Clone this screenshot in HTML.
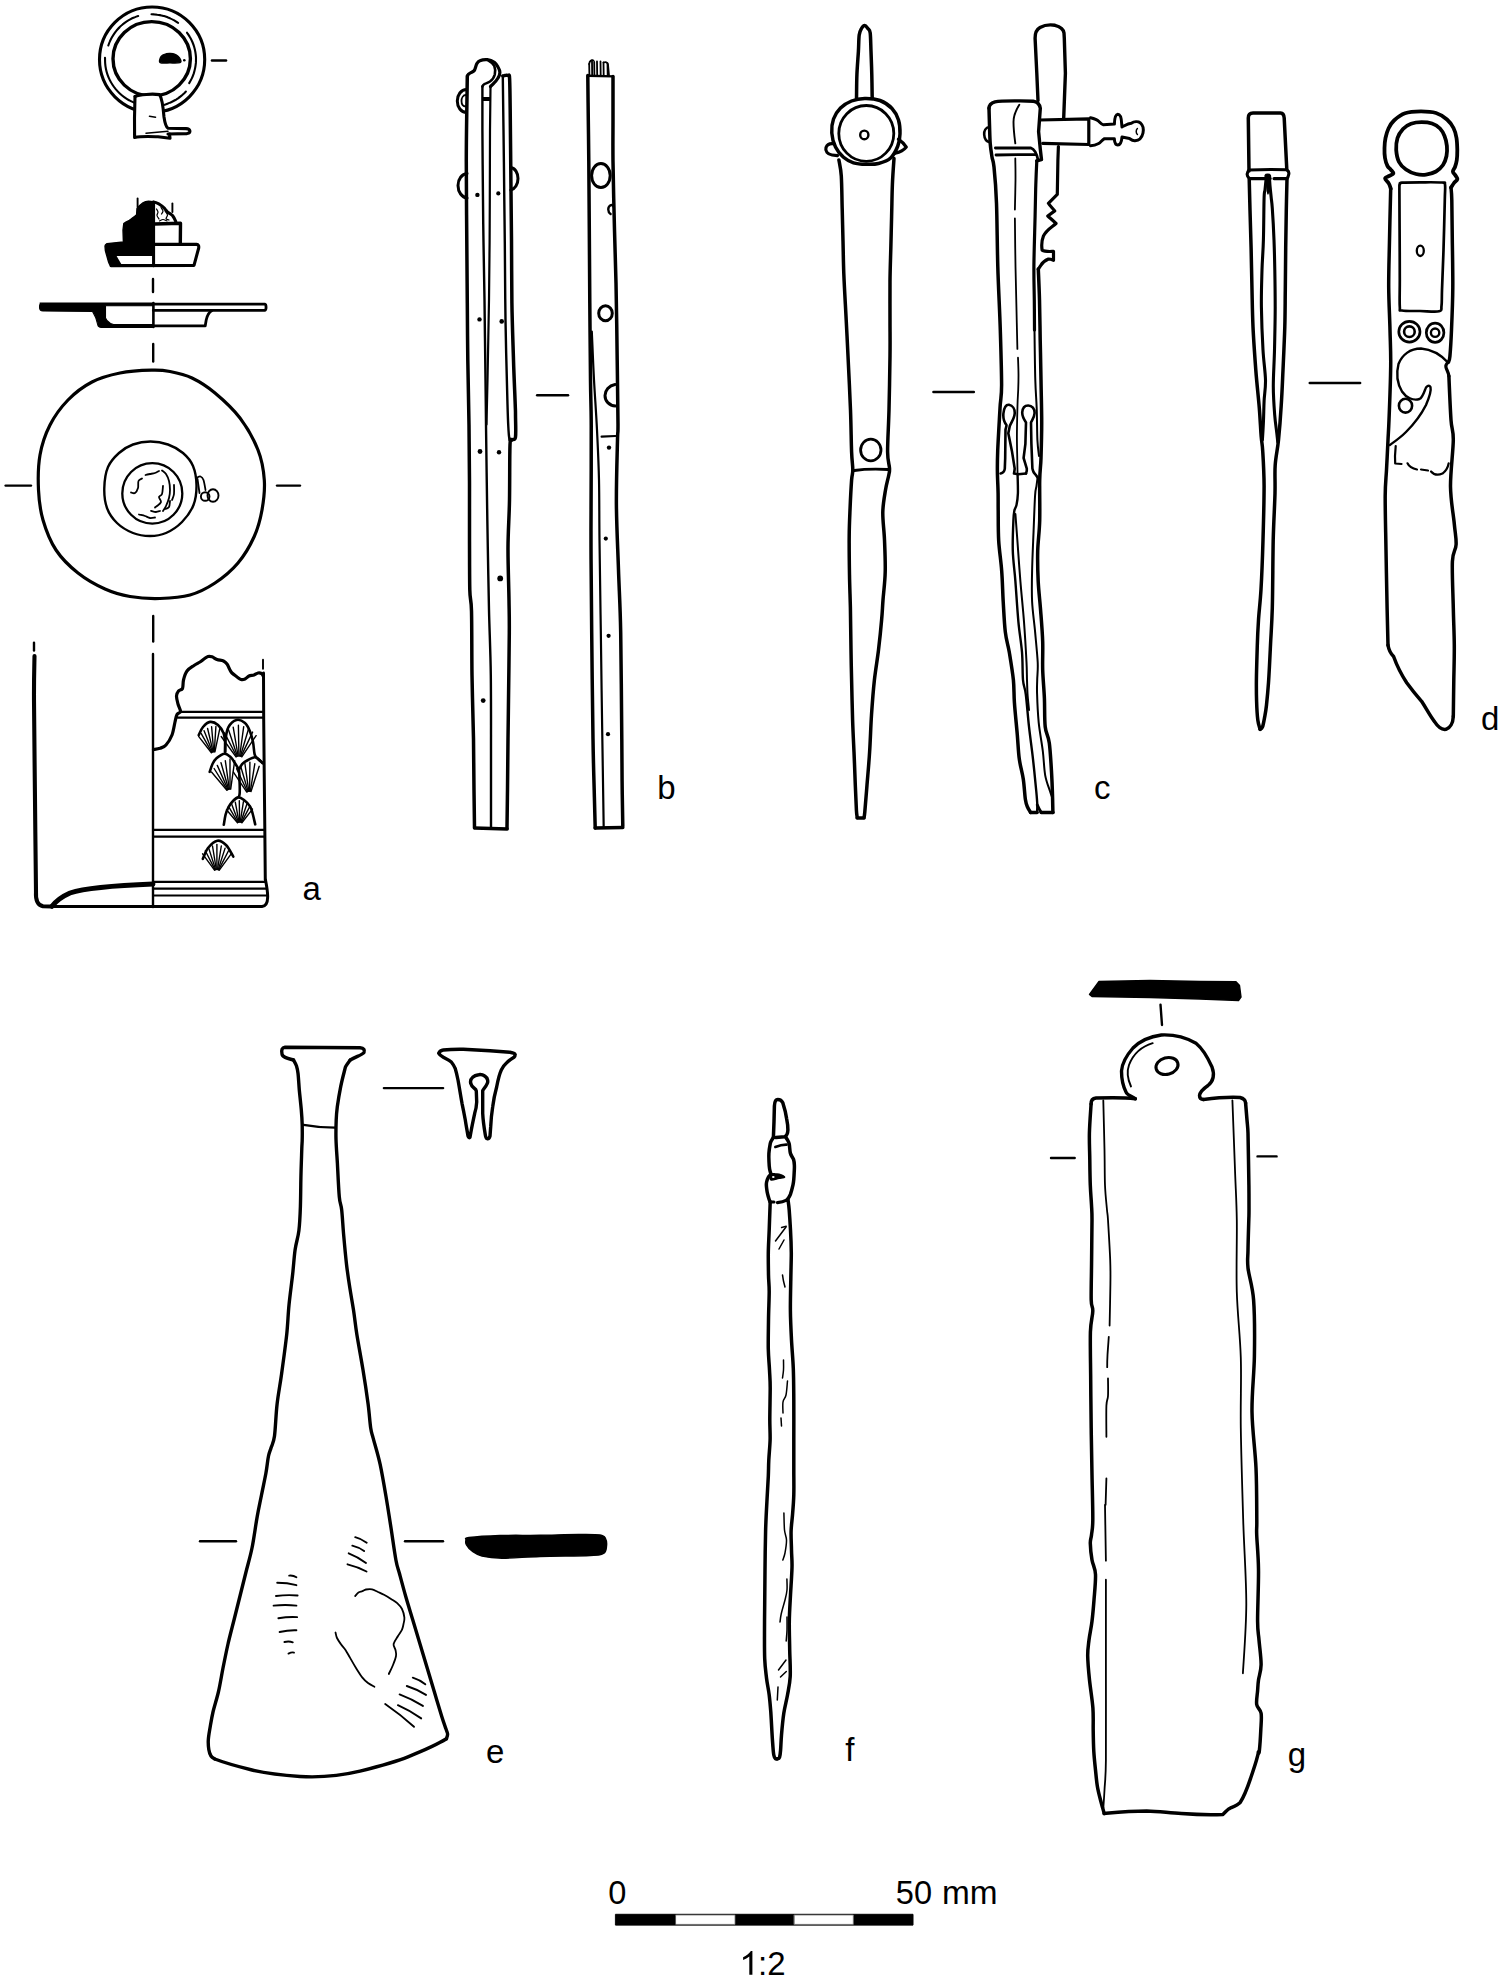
<!DOCTYPE html>
<html><head><meta charset="utf-8"><title>Figure</title>
<style>
html,body{margin:0;padding:0;background:#fff;}
body{width:1500px;height:1976px;overflow:hidden;}
svg{display:block;}
text{font-family:"Liberation Sans",sans-serif;fill:#000;stroke:none;}
</style></head><body>
<svg width="1500" height="1976" viewBox="0 0 1500 1976">
<g stroke="#000" stroke-linecap="round" stroke-linejoin="round" fill="none">
<circle cx="152.1" cy="59.6" r="52.6" stroke-width="3.1" fill="none"/>
<ellipse cx="151.7" cy="58.8" rx="38.7" ry="37.2" stroke-width="3.4" fill="none"/>
<path d="M108.3 45.5 C108.6 44.8 109.3 42.7 109.9 41.4 C110.4 40.1 111.1 38.8 111.8 37.5 C112.5 36.2 113.3 35 114.1 33.8 C114.9 32.6 115.8 31.4 116.7 30.3 C117.7 29.2 118.6 28.1 119.7 27.1 C120.7 26.1 121.8 25.1 122.9 24.2 C124.1 23.3 125.2 22.4 126.4 21.6 C127.7 20.8 128.9 20.1 130.2 19.4 C131.5 18.7 132.8 18.1 134.1 17.6 C135.5 17 137.5 16.3 138.2 16.1" stroke-width="2.1" fill="none"/>
<path d="M151.5 14.3 C152 14.3 153.4 14.3 154.3 14.4 C155.3 14.4 156.2 14.5 157.2 14.7 C158.1 14.8 159 14.9 160 15.1 C160.9 15.3 161.8 15.5 162.7 15.7 C163.7 16 164.6 16.2 165.5 16.5 C166.4 16.8 167.3 17.1 168.1 17.5 C169 17.8 169.9 18.2 170.7 18.6 C171.6 19 172.4 19.4 173.3 19.9 C174.1 20.3 174.9 20.8 175.7 21.3 C176.5 21.8 177.7 22.7 178.1 22.9" stroke-width="2.1" fill="none"/>
<path d="M187 32.7 C187.5 33.5 189.1 35.6 190 37.2 C190.9 38.7 191.7 40.3 192.4 42 C193.1 43.6 193.7 45.3 194.2 47 C194.7 48.7 195.1 50.5 195.4 52.2 C195.7 54 195.9 55.8 196 57.6 C196 59.3 196 61.1 195.9 62.9 C195.7 64.7 195.5 66.5 195.1 68.2 C194.8 70 194.3 71.7 193.8 73.4 C193.2 75.1 192.6 76.8 191.8 78.4 C191 80 189.7 82.3 189.2 83.1" stroke-width="2.1" fill="none"/>
<path d="M185.9 91.6 C185.6 91.9 184.6 92.9 184 93.5 C183.3 94.1 182.6 94.7 182 95.3 C181.3 95.9 180.6 96.4 179.9 97 C179.1 97.5 178.4 98.1 177.6 98.6 C176.9 99.1 176.1 99.5 175.4 100 C174.6 100.5 173.8 100.9 173 101.3 C172.2 101.7 171.4 102.1 170.5 102.5 C169.7 102.8 168.9 103.2 168 103.5 C167.2 103.8 166.3 104.1 165.5 104.4 C164.6 104.6 163.3 105 162.9 105.1" stroke-width="2.1" fill="none"/>
<path d="M134.1 102.6 C133.2 102.2 130.6 101.1 129 100.2 C127.3 99.3 125.7 98.2 124.2 97.1 C122.6 96 121.2 94.8 119.8 93.5 C118.4 92.2 117.1 90.8 115.9 89.4 C114.7 87.9 113.5 86.4 112.5 84.8 C111.5 83.2 110.5 81.6 109.7 79.9 C108.9 78.2 108.1 76.4 107.5 74.6 C106.9 72.9 106.4 71 106 69.2 C105.6 67.3 105.3 65.4 105.2 63.6 C105 61.7 105.1 58.8 105 57.9" stroke-width="2.1" fill="none"/>
<path d="M160.2 62.6 C158.6 61.8 159.9 59.3 160.3 58 C160.7 56.7 161.8 55.7 162.8 55 C163.8 54.3 165.3 54 166.5 53.7 C167.7 53.4 168.9 53.3 170.2 53.4 C171.5 53.5 173.2 53.6 174.5 54.1 C175.8 54.6 177.3 55.6 178.3 56.5 C179.3 57.4 180.1 58.5 180.4 59.5 C180.7 60.5 181.7 62 180 62.6 C178.3 63.2 173.3 62.9 170 62.9 C166.7 62.9 161.8 63.4 160.2 62.6Z" stroke-width="1.4" fill="#000"/>
<circle cx="184.3" cy="60.3" r="1.3" fill="#000" stroke="none"/>
<path d="M212 60.5 L226 60.5" stroke-width="2.6" fill="none"/>
<path d="M135 96.5 C140 94.5 152 93.6 159.5 94.6 C162 98 163 105 164 117 C165 124 166 127 168 128.3 L168 138 L134.6 137.5 Z" fill="#fff" stroke="none"/>
<path d="M135 96.5 C140 94.5 152 93.6 159.5 94.6 C162 98 163 105 164 117 C165 124 166 127 168 128.3 L186 128.6 C190.5 129 191.5 132.5 187 133.6 L168 134" stroke-width="3.1" fill="none"/>
<path d="M135 96.5 L134.5 118 L134.6 137.5 C142 136 150 136.5 158 136.8 L170 138.3 L169.5 134" stroke-width="3.1" fill="none"/>
<path d="M146 133.3 L168 131.2" stroke-width="1.5" fill="none"/>
<path d="M149.5 116.3 L155.5 117.2" stroke-width="1.6" fill="none"/>
<path d="M137.6 198.5 L137.6 207" stroke-width="1.9" fill="none"/>
<path d="M172.4 203.5 L172.4 212" stroke-width="1.9" fill="none"/>
<path d="M153.4 202 C150 201 146 200.8 143 202.8 C140 205 138 207 137 208.4 L136.6 214.8 C134 217 131 219 129.4 220.4 C126 222 124.5 223 123.8 223.6 L123 230 L123.4 242 L107 243.6 C105.5 244.5 105 245.5 105 246 L105.4 250.8 L108.6 262 C109.5 264.5 110 265.5 111 265.6 L154.4 265.6 L154.4 202 Z" stroke-width="1.4" fill="#000"/>
<path d="M116.6 256 L152.2 256 L152.2 264.2 L121.4 264.2 Z" fill="#fff" stroke="none"/>
<path d="M153.4 202 C157 202.5 161 205 164.6 208.4 C166 210 167 211.6 168 212.5 C170 213.5 171 214 172.5 215.5 C174 217.5 175 219.5 175.8 221.5" stroke-width="3.1" fill="none"/>
<path d="M154.4 224 L180.5 223.2 L180.3 244.4" stroke-width="3.4" fill="none"/>
<path d="M154.4 244.4 L196.5 244.4 C198.5 244.6 199 246 198.7 248 L194 265.4 L111 265.6" stroke-width="3.1" fill="none"/>
<path d="M153.6 202 L153.6 266" stroke-width="2.7" fill="none"/>
<path d="M156.5 209 C156.8 209.5 157.9 210.9 158 212 C158.1 213.1 156.8 214.3 157 215.5 C157.2 216.7 158.7 218.4 159 219" stroke-width="1.2" fill="none"/>
<path d="M161 207.5 C161.3 208.1 162.9 209.9 163 211 C163.1 212.1 161.8 213.5 161.5 214" stroke-width="1.2" fill="none"/>
<path d="M165 211 C165.4 211.7 167.3 213.8 167.5 215 C167.7 216.2 165.8 217.7 166 218.5 C166.2 219.3 168.5 219.8 169 220" stroke-width="1.2" fill="none"/>
<path d="M159.5 221 C160.1 220.8 161.8 219.5 163 219.5 C164.2 219.5 166.3 220.8 167 221" stroke-width="1.2" fill="none"/>
<path d="M153 279 L153 292" stroke-width="2.4" fill="none"/>
<path d="M40 303 L153.4 303 L153.4 305.8 L105.5 305.8 L105.5 318 C106 320 108 322 110.5 323.5 L113.5 324.6 L153.4 324.6 L153.4 327.4 L101.5 327.4 C99 327.3 98 326.5 97.8 325 C97 321 95.5 316 92.5 311.5 L43 311 C40 311 39.5 309 39.5 307 C39.5 304.5 40 303 42 303 Z" stroke-width="1.1" fill="#000"/>
<path d="M153.4 304.2 L264.8 304.2 C266.5 304.5 266.5 310 264.8 310.3 L212 310.4 C209 312 207 316 206.2 320 L205.2 325.9 L153.4 325.9" stroke-width="2.8" fill="none"/>
<path d="M153.4 303 L153.4 327" stroke-width="2.6" fill="none"/>
<path d="M153.4 310.4 L212 310.4" stroke-width="2.7" fill="none"/>
<path d="M153.2 344 L153.2 361.5" stroke-width="2.4" fill="none"/>
<path d="M151.5 370.2 C159.8 369.9 163.2 370.2 170 371.5 C176.8 372.8 184.5 374.4 192 378 C199.5 381.6 207 386.3 215 393 C223 399.7 232.8 408.5 240 418 C247.2 427.5 253.9 439.7 258 450 C262.1 460.3 263.6 470 264.3 480 C265 490 263.7 500.5 262 510 C260.3 519.5 258 528.2 254 537 C250 545.8 244.5 555.3 238 563 C231.5 570.7 223 577.7 215 583 C207 588.3 199.2 592.4 190 595 C180.8 597.6 170 598.2 160 598.5 C150 598.8 139.2 598.1 130 596.5 C120.8 594.9 113.7 592.9 105 589 C96.3 585.1 86.2 579.5 78 573 C69.8 566.5 61.8 558.8 56 550 C50.2 541.2 45.9 530 43 520 C40.1 510 39 500.8 38.5 490 C38 479.2 38.1 465.8 40 455 C41.9 444.2 45.3 434.2 50 425 C54.7 415.8 61 407.2 68 400 C75 392.8 83.3 386.5 92 382 C100.7 377.5 110.1 375 120 373 C129.9 371 143.2 370.4 151.5 370.2Z" stroke-width="3.2" fill="none"/>
<path d="M150.5 441.5 C156.3 441.5 162.6 442.6 168 444.5 C173.4 446.4 178.8 449.4 183 453 C187.2 456.6 190.8 460.7 193 466 C195.2 471.3 196.4 478.5 196.5 485 C196.6 491.5 195.9 498.8 193.5 505 C191.1 511.2 186.6 517.3 182 522 C177.4 526.7 171.3 530.7 166 533 C160.7 535.3 155.5 536 150 536 C144.5 536 138.5 535.2 133 533 C127.5 530.8 121.3 527.2 117 523 C112.7 518.8 109.1 513.8 107 508 C104.9 502.2 104.1 494.8 104.3 488 C104.5 481.2 105.5 472.8 108 467 C110.5 461.2 114.8 456.8 119 453 C123.2 449.2 127.8 446.4 133 444.5 C138.2 442.6 144.7 441.5 150.5 441.5Z" stroke-width="2.4" fill="none"/>
<ellipse cx="152.3" cy="493.4" rx="30" ry="30.2" stroke-width="2.3" fill="none"/>
<path d="M131 492.5 C131.7 492.6 133.8 493.8 135 493 C136.2 492.2 137.4 490 138 488 C138.6 486 137.8 482.6 138.5 481 C139.2 479.4 141.4 478.9 142 478.5" stroke-width="1.8" fill="none"/>
<path d="M145.5 475 C146.2 474.8 148.4 474.3 150 474 C151.6 473.7 153.5 473.5 155 473 C156.5 472.5 158.3 471.3 159 471" stroke-width="1.8" fill="none"/>
<path d="M162 470.5 C162.7 471.1 164.8 472.2 166 474 C167.2 475.8 168.3 478.3 169 481 C169.7 483.7 170 487.2 170 490 C170 492.8 169.7 495.3 169 498 C168.3 500.7 167 503.8 166 506 C165 508.2 163.5 510.2 163 511" stroke-width="1.8" fill="none"/>
<path d="M163 486 C162.8 487.3 162.7 492.2 162 494 C161.3 495.8 159.2 495.7 159 497 C158.8 498.3 161.3 500.5 161 502 C160.7 503.5 158 505.1 157 506 C156 506.9 155.3 507.2 155 507.5" stroke-width="1.8" fill="none"/>
<path d="M174 485 C174 486.5 174.3 491.5 174 494 C173.7 496.5 172.3 499 172 500" stroke-width="1.8" fill="none"/>
<path d="M139 514.5 C140 514.8 143.2 515.4 145 516 C146.8 516.6 148.3 517.8 150 518 C151.7 518.2 154.2 517.6 155 517.5" stroke-width="1.8" fill="none"/>
<path d="M151 510.8 C151.8 511 154.5 512 156 512 C157.5 512 159.3 511.2 160 511" stroke-width="1.8" fill="none"/>
<path d="M165 509 C165.7 508.7 168.2 508.3 169 507 C169.8 505.7 169.8 502 170 501" stroke-width="1.8" fill="none"/>
<path d="M197 477.5 C197.6 477.3 199.4 476.1 200.5 476.5 C201.6 476.9 202.7 477.8 203.5 480 C204.3 482.2 205.2 488.3 205.5 490" stroke-width="1.8" fill="none"/>
<path d="M197.5 479 L199.5 493" stroke-width="1.8" fill="none"/>
<circle cx="205.2" cy="496.5" r="4.3" stroke-width="1.9" fill="none"/>
<ellipse cx="213" cy="495.5" rx="5.5" ry="6.3" stroke-width="1.9" fill="none"/>
<path d="M5.6 485.6 L31 485.6" stroke-width="2.4" fill="none"/>
<path d="M277 485.6 L300 485.6" stroke-width="2.4" fill="none"/>
<path d="M153.2 616 L153.2 641.5" stroke-width="2.4" fill="none"/>
<path d="M34 642.7 L34 650.6" stroke-width="2.4" fill="none"/>
<path d="M263 659.7 L263 668.7" stroke-width="1.9" fill="none"/>
<path d="M34.5 656 C34.4 663.3 33.9 676 34 700 C34.1 724 34.7 768 35 800 C35.3 832 35.8 876.7 36 892" stroke-width="4.1" fill="none"/>
<path d="M36 892 C35.5 900 37 905 43 906.3 L52 906.5" stroke-width="4.1" fill="none"/>
<path d="M52 906.3 C56 901 61 897 70 893 C85 888 110 885.6 153 884" stroke-width="4.9" fill="none"/>
<path d="M43 906.6 L262 906.6 C266 906 267.5 903 267.6 898 C268 893 266.5 885 265.5 880" stroke-width="3" fill="none"/>
<path d="M153 654 L153 907" stroke-width="2.4" fill="none"/>
<path d="M263.5 673 C263.5 680.8 263.5 698.8 263.7 720 C263.9 741.2 264.2 773.3 264.5 800 C264.8 826.7 265.2 866.7 265.3 880" stroke-width="3" fill="none"/>
<path d="M153.5 749.5 C154.6 749.3 157.9 749 160 748.3 C162.1 747.5 164 747.2 166 745 C168 742.8 170.5 738.8 172 735 C173.5 731.2 174.2 725.4 175 722 C175.8 718.6 176.1 716.2 177 714.5 C177.9 712.8 180.3 713.2 180.5 711.5 C180.7 709.8 178.7 706.6 178 704 C177.3 701.4 176.4 698.2 176.5 696 C176.6 693.8 177.5 692.2 178.5 691 C179.5 689.8 181.7 690.3 182.5 688.5 C183.3 686.7 182.8 682.9 183.5 680 C184.2 677.1 185.2 673.4 187 671 C188.8 668.6 191.8 667 194 665.5 C196.2 664 198.3 663.1 200 662 C201.7 660.9 202.7 659.9 204 659 C205.3 658.1 206.7 656.9 208 656.5 C209.3 656.1 210.5 656.3 212 656.8 C213.5 657.3 215.1 658.8 217 659.5 C218.9 660.2 221.8 660.2 223.5 661 C225.2 661.8 226 662.7 227 664 C228 665.3 228.7 667.5 229.5 669 C230.3 670.5 230.8 671.8 232 673 C233.2 674.2 235 675.4 236.5 676.5 C238 677.6 239.6 679.1 241 679.5 C242.4 679.9 243.7 679.6 245 679 C246.3 678.4 247.5 676.7 249 676 C250.5 675.3 252.5 675.5 254 675 C255.5 674.5 256.8 673.2 258 673 C259.2 672.8 260.6 673 261.5 673.5 C262.4 674 262.9 675.6 263.2 676" stroke-width="3.2" fill="none"/>
<path d="M180 711.8 L263.5 711.8" stroke-width="2.2" fill="none"/>
<path d="M177.5 717.6 L263.5 717.6" stroke-width="2.2" fill="none"/>
<path d="M154 829.8 L265 829.8" stroke-width="2.2" fill="none"/>
<path d="M154 836.6 L265 836.6" stroke-width="2.2" fill="none"/>
<path d="M154 881.8 L265.5 881.8" stroke-width="2.2" fill="none"/>
<path d="M154 888.7 L267 888.7" stroke-width="2.2" fill="none"/>
<path d="M154 895.5 L267.5 895.5" stroke-width="2.2" fill="none"/>
<path d="M198.7 735.1 C199.4 733.8 201.1 729.2 203 727 C204.9 724.8 207.6 722.2 210.1 721.9 C212.6 721.6 215.8 723.1 218 725 C220.2 726.9 222.3 730.2 223.5 733 C224.7 735.8 224.8 738.9 225.1 742 C225.4 745.1 225.1 750.2 225.1 751.9" stroke-width="2.6" fill="none"/>
<path d="M225.1 751.9 C225.2 749.9 225 744.1 225.5 740 C226 735.9 226.5 730.6 228.3 727.3 C230.1 724 233.7 720.7 236.5 720 C239.3 719.3 242.7 721 245 723 C247.3 725 248.9 728.7 250.2 731.9 C251.5 735.1 252.2 738.2 253 742 C253.8 745.8 253.9 751.8 254.7 754.6 C255.5 757.4 256.7 757.6 258 759 C259.3 760.4 261.8 762.3 262.5 763" stroke-width="2.6" fill="none"/>
<path d="M209.7 771.9 C210.2 770.6 211.4 766.3 212.5 764 C213.6 761.7 214.5 760 216.5 758.3 C218.5 756.6 222.3 753.8 224.7 753.7 C227.1 753.6 229.3 756 231 757.5 C232.7 759 233.4 760.7 234.7 762.8 C236 764.9 238 767.2 238.8 770.1 C239.6 773 239.3 776.2 239.5 780 C239.7 783.8 239.8 790.1 239.7 792.9 C239.6 795.7 239 796.3 238.8 797" stroke-width="2.6" fill="none"/>
<path d="M238.8 770.1 C239.2 769.2 240.5 766.4 241.5 765 C242.5 763.6 242.6 763.2 244.7 761.9 C246.8 760.6 251.5 757.9 253.8 757.4 C256.1 756.9 257.1 758.1 258.5 759 C259.9 759.9 261.8 762.3 262.5 763" stroke-width="2.6" fill="none"/>
<path d="M223.8 824.8 C224.1 823.2 224.8 817.9 225.5 815 C226.2 812.1 227.1 809.8 228.3 807.5 C229.6 805.2 231.3 802.7 233 801 C234.7 799.3 236.5 797.6 238.3 797.4 C240.1 797.2 242 798.5 244 800 C246 801.5 248.7 804.1 250.2 806.6 C251.7 809.1 252.2 812 253 815 C253.8 818 254.8 822.8 255.2 824.3" stroke-width="2.6" fill="none"/>
<path d="M202.8 858.9 C203.7 857.1 205.6 851 208 848 C210.4 845 214.4 841.2 217.4 840.7 C220.4 840.2 223.3 842.4 226 845 C228.7 847.6 232.1 854.7 233.3 856.6" stroke-width="2.6" fill="none"/>
<path d="M211.4 752.7 L198.6 736.4" stroke-width="1.4" fill="none"/>
<path d="M211.9 752.4 L201.1 733.4" stroke-width="1.4" fill="none"/>
<path d="M212.5 752.1 L204.1 730.7" stroke-width="1.4" fill="none"/>
<path d="M213.1 751.9 L207.6 728.5" stroke-width="1.4" fill="none"/>
<path d="M213.7 751.8 L211.6 726.7" stroke-width="1.4" fill="none"/>
<path d="M214.3 751.8 L215.9 726.5" stroke-width="1.4" fill="none"/>
<path d="M214.9 751.9 L219.9 728.2" stroke-width="1.4" fill="none"/>
<path d="M236 756.9 L221.2 736.5" stroke-width="1.4" fill="none"/>
<path d="M236.7 756.5 L224.5 732.9" stroke-width="1.4" fill="none"/>
<path d="M237.4 756.2 L228.5 729.7" stroke-width="1.4" fill="none"/>
<path d="M238.1 756 L233.2 727.1" stroke-width="1.4" fill="none"/>
<path d="M238.9 756 L238.4 725.2" stroke-width="1.4" fill="none"/>
<path d="M239.7 756 L243.7 726.6" stroke-width="1.4" fill="none"/>
<path d="M240.4 756.2 L248.5 729" stroke-width="1.4" fill="none"/>
<path d="M241.1 756.4 L252.6 732.1" stroke-width="1.4" fill="none"/>
<path d="M241.8 756.8 L256.1 735.7" stroke-width="1.4" fill="none"/>
<path d="M226.9 790.2 L211.5 772" stroke-width="1.4" fill="none"/>
<path d="M227.4 789.8 L214.1 768.5" stroke-width="1.4" fill="none"/>
<path d="M228 789.5 L217.3 765.4" stroke-width="1.4" fill="none"/>
<path d="M228.6 789.3 L221 762.7" stroke-width="1.4" fill="none"/>
<path d="M229.3 789.1 L225.3 760.6" stroke-width="1.4" fill="none"/>
<path d="M230 789.1 L230 759" stroke-width="1.4" fill="none"/>
<path d="M230.7 789.1 L234.7 760.6" stroke-width="1.4" fill="none"/>
<path d="M246.8 792.1 L233.4 772.1" stroke-width="1.4" fill="none"/>
<path d="M247.5 791.7 L236.6 768.7" stroke-width="1.4" fill="none"/>
<path d="M248.1 791.4 L240.5 765.8" stroke-width="1.4" fill="none"/>
<path d="M248.8 791.3 L244.9 763.5" stroke-width="1.4" fill="none"/>
<path d="M249.6 791.2 L249.9 762.1" stroke-width="1.4" fill="none"/>
<path d="M250.3 791.3 L254.8 763.8" stroke-width="1.4" fill="none"/>
<path d="M251 791.5 L259.2 766.3" stroke-width="1.4" fill="none"/>
<path d="M237.5 822.8 L226.5 809.8" stroke-width="1.4" fill="none"/>
<path d="M237.9 822.5 L228.8 806.8" stroke-width="1.4" fill="none"/>
<path d="M238.5 822.2 L231.7 804.2" stroke-width="1.4" fill="none"/>
<path d="M239 822.1 L235.3 802.1" stroke-width="1.4" fill="none"/>
<path d="M239.6 822 L239.3 800.6" stroke-width="1.4" fill="none"/>
<path d="M240.2 822 L243.4 801.8" stroke-width="1.4" fill="none"/>
<path d="M240.8 822.2 L247 803.7" stroke-width="1.4" fill="none"/>
<path d="M241.4 822.4 L250 806.2" stroke-width="1.4" fill="none"/>
<path d="M241.9 822.7 L252.5 809.1" stroke-width="1.4" fill="none"/>
<path d="M214.5 870.2 L202.6 853.8" stroke-width="1.4" fill="none"/>
<path d="M215.1 869.9 L205.3 850.8" stroke-width="1.4" fill="none"/>
<path d="M215.6 869.6 L208.7 848.1" stroke-width="1.4" fill="none"/>
<path d="M216.3 869.5 L212.5 846" stroke-width="1.4" fill="none"/>
<path d="M216.9 869.4 L216.9 844.5" stroke-width="1.4" fill="none"/>
<path d="M217.5 869.5 L221.3 846" stroke-width="1.4" fill="none"/>
<path d="M218.2 869.6 L225.1 848.1" stroke-width="1.4" fill="none"/>
<path d="M218.7 869.9 L228.5 850.8" stroke-width="1.4" fill="none"/>
<path d="M219.3 870.2 L231.2 853.8" stroke-width="1.4" fill="none"/>
<text x="302.5" y="900" font-size="33" text-anchor="start">a</text>
<path d="M474.5 827.5 C474.4 821.2 474.2 804.8 474 790 C473.8 775.2 473.8 758.2 473.5 739 C473.2 719.8 472.3 696.3 472 675 C471.7 653.7 471.9 625.2 471.5 611 C471.1 596.8 470.1 601.8 469.8 590 C469.5 578.2 469.6 557.7 469.5 540 C469.4 522.3 469.6 503.2 469.5 484 C469.4 464.8 469.3 445.7 469 425 C468.7 404.3 468.1 380.3 467.8 360 C467.5 339.7 467.5 324.7 467.3 303 C467.1 281.3 466.9 253.6 466.7 230 C466.5 206.4 466.3 181.5 466.3 161.5 C466.3 141.5 466.6 124.2 466.8 110 C467 95.8 467.2 81.7 467.3 76" stroke-width="3.5" fill="none"/>
<path d="M467.6 76 C467.6 74.5 469 73.5 471.3 72.4 C472.8 71.8 474 71 474.5 70.3 C475.5 68 476 65.5 476.7 63.9 C477.8 62 479 61 479.9 60.7 C482 59.8 485 59.4 487.3 59.6 C490 59.9 492.5 61 494.3 62.3 C496 63.7 497.2 65.2 498 67 C499.2 69 499.9 71 499.9 72.4 C499.8 75 499 76.5 498 78 C496.8 80 495.5 81.8 494 83 C492.8 84.5 491.5 85.5 490.5 86.5" stroke-width="3.2" fill="none"/>
<path d="M488.5 60.5 C491 61.8 493 63.5 494.3 66 C495.3 68.5 495.5 71.5 494.8 74.5 C494 77.5 492.3 80 490 81.5 C488 82.8 486 83.3 484.5 84 C483.5 84.6 482.8 85.5 482.4 86.5" stroke-width="2.6" fill="none"/>
<path d="M502.8 76 C503.3 75.9 505.1 75.3 506 75.3 C506.9 75.2 507.8 75.2 508.4 75.7 C509 76.2 509.3 72.8 509.6 78.5 C509.9 84.2 510 92.8 510.2 110 C510.4 127.2 510.7 160 510.9 181.7 C511.1 203.4 511.3 219.8 511.5 240 C511.7 260.2 511.6 283 511.9 303 C512.2 323 513 343.2 513.5 360 C514 376.8 514.9 394.8 515.2 404 C515.5 413.2 515.5 409.5 515.5 415 C515.5 420.5 516.1 432.8 515.5 437 C514.9 441.2 512.9 438.7 512 440 C511.1 441.3 510.4 435 510 445 C509.6 455 509.8 482.9 509.5 500 C509.2 517.1 508.1 530.8 508 547.5 C507.9 564.2 508.8 585.8 509 600 C509.2 614.2 509.4 615.9 509.3 632.6 C509.2 649.3 508.7 682.3 508.5 700 C508.3 717.7 508.2 724 508 739 C507.8 754 507.7 775.2 507.5 790 C507.3 804.8 507.1 821.7 507 828" stroke-width="3.5" fill="none"/>
<path d="M474.5 828 L507.2 829" stroke-width="3.5" fill="none"/>
<path d="M502.8 76 C502.9 85 503.2 109.3 503.5 130 C503.8 150.7 504.1 181.3 504.3 200 C504.5 218.7 504.6 222.4 504.8 242.4 C505 262.4 505.1 293 505.5 320 C505.9 347 507 386.1 507.5 404.4 C508 422.7 508.2 424.1 508.5 430 C508.8 435.9 509.3 438.3 509.5 440" stroke-width="2.4" fill="none"/>
<path d="M482.4 86.5 C482.4 93.8 482.3 111.1 482.4 130 C482.5 148.9 482.8 181.3 483 200 C483.2 218.7 483.2 225.7 483.5 242.4 C483.8 259.1 484.2 277.1 484.5 300 C484.8 322.9 485.2 359.2 485.5 380 C485.8 400.8 485.8 407.3 486 424.6 C486.2 441.9 486.5 463.3 486.8 483.8 C487.1 504.3 487.4 526.5 487.8 547.5 C488.2 568.5 488.5 588.8 489 610 C489.5 631.2 490.5 651.7 490.8 675 C491.1 698.3 491 724.5 491 750 C491 775.5 491 815 491 828" stroke-width="2.4" fill="none"/>
<path d="M490.5 86.5 C490.4 93.8 490.1 111.1 490 130 C489.9 148.9 489.9 181.3 489.8 200 C489.7 218.7 489.7 225.7 489.6 242.4 C489.5 259.1 489.4 277.1 489 300 C488.6 322.9 487.9 359.2 487.5 380 C487.1 400.8 486.7 417.2 486.5 424.6" stroke-width="2.2" fill="none"/>
<rect x="482.4" y="97" width="8" height="4" fill="#000" stroke="none"/>
<path d="M466.5 89.5 C461 89.5 457.3 95 457.3 101 C457.3 107 461 112.5 466.5 112.5" stroke-width="3" fill="none"/>
<path d="M466 95 C463 95 461.5 98 461.5 101 C461.5 104 463 106.5 466 106.5" stroke-width="1.8" fill="none"/>
<path d="M467 173.5 C462 174 458 179 458 185.5 C458 192 462 197.5 467 198" stroke-width="3" fill="none"/>
<path d="M510.8 167.5 C515 168 518 173 518 178.5 C518 184 515 189 510.8 190" stroke-width="3" fill="none"/>
<circle cx="477.4" cy="194.9" r="2.2" fill="#000" stroke="none"/>
<circle cx="498.3" cy="193.4" r="2.1" fill="#000" stroke="none"/>
<circle cx="479.5" cy="319.4" r="2.2" fill="#000" stroke="none"/>
<circle cx="501.7" cy="321.4" r="2.3" fill="#000" stroke="none"/>
<circle cx="480" cy="451.5" r="2.4" fill="#000" stroke="none"/>
<circle cx="499" cy="452.3" r="2.2" fill="#000" stroke="none"/>
<circle cx="500.2" cy="578.4" r="2.9" fill="#000" stroke="none"/>
<circle cx="483.2" cy="700.6" r="2.4" fill="#000" stroke="none"/>
<path d="M587.8 75.5 C587.9 82.9 588.1 105.7 588.3 120 C588.5 134.3 588.6 143.2 588.8 161.5 C589 179.8 589.1 206.4 589.3 230 C589.5 253.6 589.6 278 589.8 303 C590 328 590.3 360.5 590.5 380 C590.7 399.5 591.1 405 591.2 420 C591.3 435 591.2 448.8 591.2 470 C591.2 491.2 590.9 520.4 591 547.5 C591.1 574.6 591.4 600.7 591.7 632.6 C592 664.5 592.6 712.7 593 738.9 C593.4 765.1 593.8 775.1 594.2 790 C594.6 804.9 595 821.7 595.2 828" stroke-width="3.5" fill="none"/>
<path d="M613 76.4 C613 83.7 613 105.8 613 120 C613 134.2 612.8 143.2 613 161.5 C613.2 179.8 614 209.8 614.5 230 C615 250.2 615.5 261.3 616 283 C616.5 304.7 616.9 336.4 617.2 360 C617.5 383.6 618 411.3 618 424.6 C618 437.9 617.8 426.6 617.5 440 C617.2 453.4 616.2 483.3 616.4 505 C616.6 526.7 617.8 548.7 618.5 570 C619.2 591.3 620.2 604.5 620.7 632.6 C621.2 660.8 621.5 712.7 621.8 738.9 C622 765.1 622 775.5 622.2 790 C622.4 804.5 622.7 820 622.8 826" stroke-width="3.5" fill="none"/>
<path d="M595.2 828 L622.8 827.5" stroke-width="3.5" fill="none"/>
<path d="M588 75.8 L613 76.4" stroke-width="2.4" fill="none"/>
<path d="M589.2 64 L589.4 75.5" stroke-width="1.8" fill="none"/>
<path d="M592 60.5 L592.2 75.5" stroke-width="1.8" fill="none"/>
<path d="M594.2 62 L594.4 75.5" stroke-width="1.8" fill="none"/>
<path d="M597 61.5 L597.2 75.5" stroke-width="1.8" fill="none"/>
<path d="M600.5 61.5 L600.7 75.5" stroke-width="1.8" fill="none"/>
<path d="M603.5 62.5 L603.7 75.5" stroke-width="1.8" fill="none"/>
<path d="M607.5 63.5 L607.7 75.5" stroke-width="1.8" fill="none"/>
<path d="M589.2 64 C589.5 61 591.5 59.5 593.5 60.5" stroke-width="1.8" fill="none"/>
<path d="M603.5 62.5 C605.5 61.8 607.5 62 608 64.5 L609 75.5" stroke-width="1.8" fill="none"/>
<ellipse cx="600.9" cy="175.6" rx="9.3" ry="12" stroke-width="3" fill="none"/>
<ellipse cx="605.5" cy="313.3" rx="6.8" ry="7.5" stroke-width="3" fill="none"/>
<path d="M615 384.5 C609 385.5 605 390.5 605 395.5 C605 401 609 405.5 615.5 406" stroke-width="3" fill="none"/>
<path d="M610.6 214 C607.5 212 607.5 207 610.5 205.3 C612 204.6 613.5 205.5 613.8 207" stroke-width="2.4" fill="none"/>
<path d="M591.8 331.5 C592.2 339.6 593.1 363.6 594 380 C594.9 396.4 596.2 413.3 597 430 C597.8 446.7 598.6 461.7 599 480 C599.4 498.3 599.2 515 599.5 540 C599.8 565 600.3 598.3 600.8 630 C601.2 661.7 601.7 697 602.2 730 C602.7 763 603.5 811.7 603.7 828" stroke-width="2.2" fill="none"/>
<path d="M601.6 436.6 L615.4 436" stroke-width="2.2" fill="none"/>
<circle cx="609" cy="447.6" r="2.2" fill="#000" stroke="none"/>
<circle cx="605.8" cy="538.6" r="2.1" fill="#000" stroke="none"/>
<circle cx="608.6" cy="635.8" r="2.1" fill="#000" stroke="none"/>
<circle cx="608" cy="734.2" r="2.1" fill="#000" stroke="none"/>
<path d="M537.2 395.3 L568 395.3" stroke-width="2.6" fill="none"/>
<text x="657.2" y="798.8" font-size="33" text-anchor="start">b</text>
<path d="M856.5 98.4 C856.6 94.5 856.6 82.7 856.9 74.9 C857.2 67.1 858 58 858.4 51.4 C858.8 44.8 858.7 38.8 859.2 35 C859.7 31.2 860.6 30.1 861.5 28.5 C862.4 26.9 863.7 25.6 864.7 25.6 C865.8 25.6 866.9 27.3 867.8 28.5 C868.7 29.7 869.7 29.2 870.2 33 C870.7 36.8 870.7 44.4 871 51.4 C871.3 58.4 871.6 67.1 871.8 74.9 C872 82.7 872.1 94.5 872.2 98.4" stroke-width="3.5" fill="none"/>
<path d="M864.7 98.4 C869.5 98.3 875.5 98.8 880 100.5 C884.5 102.2 888.9 105.2 892 108.5 C895.1 111.8 897.2 115.8 898.5 120 C899.8 124.2 900.1 129.4 900 133.7 C899.9 138 899.4 141.9 897.8 146 C896.2 150.1 893.8 155.1 890.6 158 C887.4 160.9 882.5 162.4 878.5 163.5 C874.5 164.6 870.5 164.4 866.3 164.3 C862.1 164.2 857.3 164 853.5 162.8 C849.7 161.6 846.5 159.9 843.5 157.3 C840.5 154.7 837.5 151.1 835.5 147 C833.5 142.9 832.1 137.7 831.8 133 C831.5 128.3 832 123.2 833.5 119 C835 114.8 837.5 111 840.5 108 C843.5 105 847.5 102.6 851.5 101 C855.5 99.4 860 98.5 864.7 98.4Z" stroke-width="3.5" fill="none"/>
<ellipse cx="866.3" cy="133.4" rx="27.5" ry="27.9" stroke-width="2.8" fill="none"/>
<ellipse cx="864.3" cy="134.9" rx="4.1" ry="4.3" stroke-width="2.4" fill="none"/>
<path d="M834.5 144 C831 143.3 827.3 144.2 826 147.5 C825 151 827.5 154.5 832 155 L837.5 155.6" stroke-width="3.2" fill="none"/>
<path d="M898.4 139.2 C901 141 904 143 906.3 147.1 C904 150 899 152.5 895.3 153.3" stroke-width="3.2" fill="none"/>
<path d="M838.9 160 C839.3 162.7 840.8 168.1 841.3 176.2 C841.8 184.3 841.9 197.8 842.2 208.6 C842.5 219.4 842.7 230.2 843 241 C843.3 251.8 843.3 260.3 843.8 273.5 C844.3 286.7 845.5 306.2 846.2 320 C846.9 333.8 847.3 341 848 356 C848.7 371 849.9 394 850.5 410 C851.1 426 851.2 442 851.6 452 C852 462 852.8 465.3 852.8 470 C852.8 474.7 852.1 473.3 851.6 480 C851.1 486.7 850.4 500.7 850 510 C849.6 519.3 849.3 525.2 849.2 536 C849.1 546.8 849.3 563 849.5 575 C849.7 587 850.1 595.5 850.4 608 C850.6 620.5 850.8 638 851 650 C851.2 662 851.3 668.3 851.6 680 C851.9 691.7 852.2 708 852.6 720 C853 732 853.5 741.2 854 752 C854.5 762.8 854.9 775.3 855.3 785 C855.7 794.7 856.1 804.6 856.4 810 C856.7 815.4 857.1 816.2 857.2 817.5" stroke-width="3.5" fill="none"/>
<path d="M894 158.5 C893.7 162.8 892.8 174.6 892.4 184.3 C892 194 891.9 205.9 891.6 216.7 C891.3 227.5 891.1 238.3 890.8 249.1 C890.5 259.9 890.1 269.8 890 281.6 C889.9 293.4 890 307.6 890 320 C890 332.4 890.2 341 890 356 C889.8 371 889.4 394 889 410 C888.6 426 887.5 442.3 887.6 452 C887.7 461.7 889.3 464.2 889.5 468 C889.7 471.8 889.5 471.3 888.8 475 C888.1 478.7 886.5 483.8 885.5 490 C884.5 496.2 883 503.7 882.8 512 C882.6 520.3 884.1 530 884.5 540 C884.9 550 885.5 562 885.2 572 C885 582 883.6 592 883 600 C882.4 608 882.4 611.7 881.6 620 C880.9 628.3 879.7 640 878.5 650 C877.3 660 875.6 669.2 874.4 680 C873.2 690.8 872.3 703 871.5 715 C870.7 727 870.4 740.3 869.6 752 C868.9 763.7 867.8 775 867 785 C866.2 795 865.3 806.6 864.8 812 C864.3 817.4 864.1 816.6 864 817.5" stroke-width="3.5" fill="none"/>
<path d="M857.2 818 L864 818" stroke-width="3.5" fill="none"/>
<ellipse cx="870.8" cy="450" rx="10.2" ry="10.8" stroke-width="2.8" fill="none"/>
<path d="M854.3 470.5 C865 469 877 469 888 469.5" stroke-width="2.8" fill="none"/>
<path d="M1038 100.5 L1036.8 73.3 L1035.1 38.3 C1035 33 1036.5 29.5 1040 27.5 C1044 25.3 1050 24.5 1055 25.3 C1060 26.5 1063.5 29 1064 33 L1064.3 38.3 L1065.4 73.3 L1063.7 118" stroke-width="3.4" fill="none"/>
<path d="M1058.4 146.5 L1057.9 160 L1057.3 194.4 L1048.4 203.3 C1050 206 1053 208.5 1054.7 210.9 L1047.8 216 C1050.5 218.5 1053.5 221 1056 223.5 C1052 227 1046 230 1043.4 236.2 C1041.5 241 1041.5 246 1042.1 250.1 C1045 252 1050 251.5 1053.5 251.4 L1053.5 260.3 C1051.5 259.5 1050 258.8 1048.4 259 C1045 260.5 1042.5 262.5 1040.8 265.3 L1038.3 269.1" stroke-width="3.2" fill="none"/>
<path d="M989 108.3 C989 105.5 991 103 995 101.8 C1000 100.8 1010 100.8 1020 100.9 L1033.3 101.3 C1037 101.8 1039.5 103.5 1040.3 108.3 L1038.6 131.7 L1040.3 149.2 L1041.5 159.7 L1036.8 160.8" stroke-width="3.4" fill="none"/>
<path d="M1019.3 104.8 C1016 110 1013.5 115 1013.5 122 C1013.5 130 1014.5 137 1015.3 143.3" stroke-width="1.9" fill="none"/>
<path d="M995.4 148 L1031 148 C1034 149 1036.5 153 1038 159.7 M996 155 L1035.7 154.4" stroke-width="2.8" fill="none"/>
<path d="M989.4 127 C985.5 127.5 984 131 984.2 134.5 C984.4 138.5 986 141.5 989.8 142.2" stroke-width="2.6" fill="none"/>
<path d="M1039.8 120 L1088.8 118.8 L1088.8 144.5 L1042.7 143.3" stroke-width="3.2" fill="none"/>
<path d="M1090.5 117.7 C1094 118.5 1097 119.5 1098.7 121.2 C1100.5 123 1101.5 124.5 1103.3 124.7 L1114.4 124.1 C1114.5 119 1115.5 114.5 1117.8 114.2 C1120.5 114.2 1121.5 119 1121.7 124 L1122 127 C1125 125.5 1128 123.5 1131.3 123.3 C1134 121.5 1138 121.2 1140.5 123 C1143.2 125.5 1143.8 129 1143 133 C1142 137.5 1139 140.5 1135 140.8 C1132.5 141 1130.8 139.5 1129.5 138.5 L1122 137 C1121.6 141.5 1120.5 145 1117.8 145.1 C1115.5 145 1114.5 142 1114.3 138.7 L1104.5 138.7 C1102 140 1100.5 142.5 1098.7 143.5 C1096 145 1093.5 145.7 1090.5 145.7" stroke-width="3" fill="none"/>
<path d="M1137.4 128.5 C1135.8 130 1135.8 133 1137.4 134.5" stroke-width="1.5" fill="none"/>
<path d="M989 108.3 C989.1 111.1 989.3 119.2 989.5 125 C989.7 130.8 989.8 138 990.2 143.3 C990.6 148.6 991.4 153.1 992 157 C992.6 160.9 993.2 159.3 994 167 C994.8 174.7 995.9 186.7 996.5 203.3 C997.1 219.9 997.2 245.5 997.8 266.6 C998.4 287.7 999.7 310.3 1000.3 330 C1000.9 349.7 1001.6 371.9 1001.6 385 C1001.6 398.1 1000.6 397.3 1000 408.3 C999.4 419.3 998.1 440.4 997.7 451 C997.3 461.6 997.3 464.9 997.4 472 C997.5 479.1 998 487 998.1 493.4 C998.2 499.8 998.1 502.5 998.2 510.4 C998.3 518.3 998.1 530.7 998.7 540.8 C999.3 550.9 1001 561 1001.7 571.1 C1002.5 581.2 1002.6 591.4 1003.2 601.5 C1003.8 611.6 1004.3 623.4 1005.3 631.9 C1006.3 640.4 1007.9 644.2 1009.3 652.2 C1010.6 660.2 1012.5 671.6 1013.4 680 C1014.2 688.4 1013.8 693.3 1014.4 702.4 C1015 711.5 1016.5 725.3 1017.3 734.8 C1018.1 744.2 1018.3 751.7 1019.3 759.1 C1020.3 766.5 1022.3 772.5 1023.3 779.3 C1024.3 786 1024.7 795 1025.4 799.6 C1026.1 804.2 1026.6 804.9 1027.5 807 C1028.4 809.1 1030.1 811.6 1030.6 812.5" stroke-width="3.5" fill="none"/>
<path d="M1036.8 160.8 C1036.6 164.8 1036.1 175.8 1035.8 185 C1035.5 194.2 1035.4 202.4 1035.1 216 C1034.8 229.6 1034 252.6 1033.9 266.6 C1033.8 280.6 1034.2 289.4 1034.3 300 C1034.4 310.6 1034.5 325 1034.5 330" stroke-width="3.2" fill="none"/>
<path d="M1034.5 330 C1034.6 338.3 1034.9 366.9 1035.3 380 C1035.7 393.1 1036.3 398.3 1036.7 408.3 C1037.1 418.3 1037 432.1 1037.4 440 C1037.8 447.9 1038.7 453.3 1039 456" stroke-width="2" fill="none"/>
<path d="M1038.3 269.1 C1038.5 274.2 1039.2 288.2 1039.5 300 C1039.8 311.8 1040 326.7 1040.2 340 C1040.5 353.3 1040.8 366.2 1041 380 C1041.2 393.8 1041.7 409.5 1041.7 422.5 C1041.7 435.5 1041.3 448.4 1041 458 C1040.7 467.6 1039.9 469.6 1039.7 480 C1039.5 490.4 1040 508.7 1039.7 520.5 C1039.4 532.3 1038 540.8 1037.7 550.9 C1037.5 561 1037.7 571.2 1038.2 581.3 C1038.7 591.4 1040 601.5 1040.7 611.6 C1041.5 621.7 1042.4 632.3 1042.7 642 C1043 651.7 1042.4 660.6 1042.7 670 C1043 679.4 1044 688.8 1044.4 698.3 C1044.8 707.8 1044.4 719.3 1045.2 726.7 C1046 734.1 1048.2 734.8 1049.3 742.9 C1050.4 751 1051.2 766.6 1051.7 775.3 C1052.2 784 1052.3 788.8 1052.5 795 C1052.7 801.2 1052.8 809.6 1052.9 812.5" stroke-width="3.5" fill="none"/>
<path d="M1030.6 812.5 L1037.1 812.5" stroke-width="3.5" fill="none"/>
<path d="M1041.2 812.5 L1052.9 812.5" stroke-width="3.5" fill="none"/>
<path d="M1015.3 158.5 C1015.3 162.1 1015.6 171.5 1015.5 180 C1015.4 188.5 1015 204.7 1014.9 209.6" stroke-width="1.8" fill="none"/>
<path d="M1014.9 218.5 C1015 226.5 1015.2 251.4 1015.5 266.6 C1015.8 281.9 1016.2 296.3 1016.5 310 C1016.8 323.7 1017.2 342.4 1017.4 348.9" stroke-width="1.8" fill="none"/>
<path d="M1018 357.7 C1018.1 360.6 1018.5 369.6 1018.5 375 C1018.5 380.4 1018.4 385 1018.2 390 C1018 395 1017.7 397.2 1017.5 405 C1017.3 412.8 1016.9 427.5 1016.9 436.7 C1016.9 445.9 1017.2 453.7 1017.3 460 C1017.4 466.3 1017.5 471.9 1017.6 474.3" stroke-width="1.8" fill="none"/>
<path d="M1000.6 473.5 C1003 473 1004.5 471 1004.8 468.6 L1005.2 458 L1005.5 429.6 C1006 427.5 1006.5 426.5 1006.5 425 C1004 422 1003 418 1003.4 413.5 C1004 408 1006 404.5 1009 404.8 C1012.5 405.5 1015 409 1014.7 413.5 C1014.5 418 1011.5 422 1009.8 426 L1008.3 433.2 L1011.9 450.9 L1014.7 468.6 C1014.5 471 1014.2 472.5 1014 473.5 L1018.3 474.3 L1026 473.5" stroke-width="2.6" fill="none"/>
<path d="M1026 473.5 C1027 471 1027 470 1026.8 468.6 L1023.6 458 L1025.4 443.8 L1026 422.5 C1024 419.5 1022.2 416 1022.2 412.5 C1022.5 408 1025 405.5 1028.2 405.5 C1032 405.5 1034.8 408.5 1034.6 413 C1034.4 417 1032.5 419.5 1031 422.5 L1031.4 443.8 L1032.4 468.6 C1033 471.5 1034 473.5 1035.3 474.3 L1037.4 477.1" stroke-width="2.6" fill="none"/>
<path d="M1017.6 474.3 C1017.6 477.5 1018.1 488.3 1017.9 493.4 C1017.7 498.5 1017.1 502.2 1016.5 505 C1015.9 507.8 1014.9 507.8 1014.4 510.4 C1013.9 513 1013.7 513.8 1013.4 520.5 C1013.1 527.2 1012.5 540.8 1012.8 550.9 C1013.1 561 1014.5 569.5 1015.4 581.3 C1016.3 593.1 1017.3 610 1018.4 621.8 C1019.5 633.6 1021.2 642.5 1022 652.2 C1022.8 661.9 1022.4 673 1023 680 C1023.6 687 1024.8 686.5 1025.8 694.3 C1026.8 702.1 1027.8 715.9 1029 726.7 C1030.2 737.5 1031.8 748.3 1033 759.1 C1034.2 769.9 1035.6 783.9 1036.3 791.5 C1037 799.1 1037.2 801.5 1037.3 805 C1037.4 808.5 1037.1 811.2 1037.1 812.5" stroke-width="2.4" fill="none"/>
<path d="M1015.4 514 C1015.7 518.5 1016.6 529.6 1017.4 540.8 C1018.2 552 1019.3 567.8 1020.4 581.3 C1021.5 594.8 1023 608.3 1024 621.8 C1025 635.3 1026 652.6 1026.5 662.3 C1027 672 1026.8 674.7 1027 680 C1027.2 685.3 1027.2 689 1027.5 694 C1027.8 699 1028.8 707.3 1029 710" stroke-width="2" fill="none"/>
<path d="M1037.3 805 C1038.5 808 1040 810.5 1041.2 812.5" stroke-width="3" fill="none"/>
<path d="M1037.6 477.5 C1037.4 478.9 1036.9 483.1 1036.5 486 C1036.1 488.9 1035.6 487.8 1035.1 495.2 C1034.6 502.6 1034.1 518 1033.6 530.6 C1033.1 543.2 1032.3 559.3 1032.1 571.1 C1031.8 582.9 1031.6 591.4 1032.1 601.5 C1032.6 611.6 1034.2 621.8 1035.1 631.9 C1036 642 1037.3 654.3 1037.7 662.3 C1038.1 670.3 1037.3 674.7 1037.2 680 C1037.1 685.3 1036.8 687.2 1037.1 694.3 C1037.3 701.4 1037.8 713.1 1038.7 722.6 C1039.7 732.1 1041.7 742.2 1042.8 751 C1043.9 759.8 1044 768.5 1045.2 775.3 C1046.4 782 1049 787.9 1050.1 791.5 C1051.2 795.1 1051.7 796.1 1052 797" stroke-width="2" fill="none"/>
<path d="M933.5 392 L973.8 392" stroke-width="2.6" fill="none"/>
<text x="1094" y="799" font-size="33" text-anchor="start">c</text>
<path d="M1249 171 L1248.3 118 C1248.3 114.5 1250 113 1253 113 L1280.5 113 C1283 113.2 1284 115 1284.2 118 L1286.8 169.5" stroke-width="3.5" fill="none"/>
<path d="M1249 170 C1260 169.5 1275 169.3 1286.8 169.8 C1288.5 170.8 1289.2 172.5 1288.7 174.5 C1288.3 176.5 1287.8 177.8 1287 178.6 L1274 178.6 M1270.2 178.6 L1249.5 178.6 C1248 177.5 1247 176 1247.2 174 C1247.4 172 1248 171 1249 170" stroke-width="3.1" fill="none"/>
<path d="M1249.2 178.6 C1249.3 183.8 1249.7 198.4 1250 210 C1250.3 221.6 1250.8 234.6 1251.1 247.9 C1251.4 261.2 1251.7 276.9 1252 290 C1252.3 303.1 1252.4 313.5 1253 326.8 C1253.6 340.1 1254.8 356.5 1255.8 370 C1256.8 383.5 1258.4 396.9 1259.3 408 C1260.2 419.1 1260.6 429.6 1261.2 436.7 C1261.8 443.8 1262.2 442.6 1262.7 450.8 C1263.2 459 1264 471.1 1264.1 486 C1264.1 500.9 1263.5 522.8 1263 540 C1262.5 557.2 1261.8 576 1261 589.3 C1260.2 602.6 1259.1 610.7 1258.5 620 C1257.9 629.3 1257.6 635.3 1257.3 645.3 C1257 655.3 1256.5 670.7 1256.4 680 C1256.3 689.3 1256.4 694.6 1256.6 701.3 C1256.8 708 1257.2 715.3 1257.8 720 C1258.4 724.7 1259.7 727.8 1260.1 729.3" stroke-width="3.5" fill="none"/>
<path d="M1287 178.6 C1286.9 183.8 1286.5 198.4 1286.3 210 C1286.1 221.6 1285.9 234.6 1285.7 247.9 C1285.5 261.2 1285.5 276.9 1285.3 290 C1285.1 303.1 1285.2 313.5 1284.8 326.8 C1284.4 340.1 1283.6 356.9 1283 370 C1282.4 383.1 1282 394 1281.2 405.7 C1280.5 417.4 1279.5 430.1 1278.5 440 C1277.5 449.9 1275.8 456.2 1275.2 465 C1274.6 473.8 1275.3 480.5 1275 493 C1274.7 505.5 1273.7 520.8 1273.2 540 C1272.8 559.2 1272.8 590.5 1272.3 608 C1271.8 625.5 1271.1 632.5 1270.5 645 C1269.9 657.5 1269.2 672.7 1268.5 682.7 C1267.8 692.7 1267.1 699.4 1266.5 705 C1265.9 710.6 1265.5 712.6 1264.8 716.3 C1264.1 720 1263.3 724.8 1262.5 727 C1261.7 729.2 1260.5 728.9 1260.1 729.3" stroke-width="3.5" fill="none"/>
<path d="M1265.2 175.3 C1265.8 173.9 1269.6 173.9 1270.3 175.3 C1271 176.8 1270 180.9 1269.6 184 C1269.2 187.1 1268.5 194 1268 194 C1267.5 194 1267.1 187.1 1266.6 184 C1266.1 180.9 1264.6 176.8 1265.2 175.3Z" stroke-width="1.4" fill="#000"/>
<path d="M1266 180 C1265.8 181.7 1265.3 187.1 1265 190 C1264.7 192.9 1264.4 189.4 1264.1 197.7 C1263.8 206 1263.8 227.9 1263.4 240 C1263.1 252.1 1262.3 258.8 1262 270 C1261.7 281.2 1261.2 293.7 1261.4 307 C1261.6 320.3 1262.3 337.8 1263 350 C1263.7 362.2 1265.3 371.5 1265.5 380 C1265.7 388.5 1264.4 393.9 1264.1 401 C1263.8 408.1 1263.7 416 1263.4 422.5 C1263.1 429 1262.6 437.1 1262.4 440" stroke-width="3.1" fill="none"/>
<path d="M1269.6 180 C1269.7 181.7 1270.1 187.1 1270.4 190 C1270.7 192.9 1270.9 194.6 1271.2 197.7 C1271.5 200.8 1271.8 201.3 1272.3 208.4 C1272.8 215.5 1273.6 229.7 1274 240 C1274.4 250.3 1274.6 258.8 1274.8 270 C1275 281.2 1275.2 293.7 1275.2 307 C1275.2 320.3 1274.8 336.8 1274.5 350 C1274.2 363.2 1273.3 375.2 1273.3 386 C1273.3 396.8 1274.1 407.2 1274.7 415 C1275.3 422.8 1276.3 428.5 1276.8 433 C1277.3 437.5 1277.6 440.5 1277.8 442" stroke-width="3.1" fill="none"/>
<path d="M1390.8 188.7 C1390.5 187.8 1389.9 185.3 1388.9 183.6 C1388 181.9 1385.1 179.8 1385.1 178.5 C1385.1 177.2 1387.6 176.8 1389 176 C1390.4 175.2 1393.1 174.6 1393.4 173.5 C1393.7 172.4 1391.8 170.9 1390.8 169.7 C1389.8 168.4 1388.5 167.9 1387.5 166 C1386.5 164.1 1385.5 161 1385 158 C1384.5 155 1384.4 151.3 1384.5 148 C1384.6 144.7 1384.8 141.2 1385.5 138 C1386.2 134.8 1387.1 131.4 1388.5 128.5 C1389.9 125.6 1391.2 123 1394 120.5 C1396.8 118 1400.5 114.8 1405 113.3 C1409.5 111.8 1415.8 111.5 1421 111.4 C1426.2 111.4 1431.7 111.7 1436 113 C1440.3 114.3 1444.1 117 1447 119.5 C1449.9 122 1451.9 124.9 1453.5 128 C1455.1 131.1 1455.9 134.3 1456.5 138 C1457.1 141.7 1457.2 146.3 1457.3 150 C1457.3 153.7 1457.2 157.2 1456.8 160 C1456.4 162.8 1455.7 165.1 1455 167 C1454.3 168.9 1452.8 170.2 1452.9 171.6 C1453 173 1454.8 174.2 1455.5 175.5 C1456.2 176.8 1457.5 177.9 1457.3 179.2 C1457 180.4 1455 181.6 1454 183 C1453 184.4 1451.5 186.8 1451 187.5" stroke-width="3.8" fill="none"/>
<path d="M1421.6 122.2 C1425.1 122.2 1428.9 122.5 1432 123.5 C1435.1 124.5 1437.9 126.4 1440 128.5 C1442.1 130.6 1443.3 133.1 1444.5 136 C1445.7 138.9 1446.6 142.7 1446.9 146 C1447.2 149.3 1447.2 152.8 1446.5 156 C1445.8 159.2 1444.8 162.4 1443 165 C1441.2 167.6 1438.8 169.9 1436 171.5 C1433.2 173.1 1429.3 174.2 1426 174.6 C1422.7 175 1419.3 174.8 1416 174 C1412.7 173.2 1408.8 171.5 1406 169.5 C1403.2 167.5 1400.6 165.2 1399 162 C1397.4 158.8 1396.5 154 1396.2 150 C1396 146 1396.4 141.5 1397.5 138 C1398.6 134.5 1400.8 131.4 1403 129 C1405.2 126.6 1407.9 124.9 1411 123.8 C1414.1 122.7 1418.1 122.2 1421.6 122.2Z" stroke-width="3.8" fill="none"/>
<path d="M1390.7 188.7 C1390.5 197.2 1389.8 223.6 1389.5 240 C1389.2 256.4 1388.6 272.3 1388.7 287.3 C1388.8 302.3 1389.7 316.9 1390 330 C1390.3 343.1 1390.9 351.2 1390.7 366.2 C1390.5 381.2 1389.5 407.7 1389 420 C1388.5 432.3 1388.4 431.7 1388 440 C1387.6 448.3 1387 460.7 1386.5 470 C1386 479.3 1385.3 482.7 1385.2 496 C1385.1 509.3 1385.7 531.3 1386 550 C1386.3 568.7 1386.8 592.1 1387.1 608 C1387.4 623.9 1387.8 639.1 1388 645.3" stroke-width="3.5" fill="none"/>
<path d="M1388 645.3 C1389 651 1391 654 1393.6 656.5 C1397 666 1401 674 1406.7 682.7 C1412 690 1417 696 1421.6 701.3 C1426 708 1430 716 1434.7 721.9 C1438 727 1442 730 1446 729.3 C1450 728 1453 723 1453.3 716.3" stroke-width="3.5" fill="none"/>
<path d="M1451 187.5 C1451.1 189.6 1451.6 191.2 1451.8 200 C1452 208.8 1452.1 225.4 1452.3 240 C1452.5 254.6 1452.9 272.3 1452.8 287.3 C1452.7 302.3 1452 318.5 1451.5 330 C1451 341.5 1450.4 351.1 1449.9 356.4 C1449.4 361.7 1448.7 361.1 1448.5 362" stroke-width="3.5" fill="none"/>
<path d="M1448.5 362 C1446.5 363.5 1445.5 365 1445.9 367 C1446.5 370 1448.5 372 1448.9 376.1" stroke-width="3.2" fill="none"/>
<path d="M1448.9 376.1 C1449.2 383.4 1450.3 409.4 1451 420 C1451.7 430.6 1453.4 428.9 1453.3 440 C1453.2 451.1 1450.3 472.7 1450.5 486.7 C1450.7 500.7 1453.4 514.4 1454.3 524 C1455.2 533.6 1456.4 538.3 1456.1 544.5 C1455.8 550.7 1452.9 550.7 1452.4 561.3 C1451.9 571.9 1453 594 1453.3 608 C1453.6 622 1454.2 633.3 1454.3 645.3 C1454.4 657.3 1454 668.2 1453.8 680 C1453.6 691.8 1453.4 710.2 1453.3 716.3" stroke-width="3.5" fill="none"/>
<path d="M1402 182.7 C1405.4 182.3 1413.3 182.3 1420 182.3 C1426.7 182.3 1437.8 182.1 1442 182.5 C1446.2 182.9 1444.5 181.6 1445 184.5 C1445.5 187.4 1445 189.1 1444.8 200 C1444.5 210.9 1444 235 1443.5 250 C1443 265 1442.3 280.7 1442 290 C1441.7 299.3 1442 302.4 1441.5 306 C1441 309.6 1442.6 310.5 1439 311.3 C1435.4 312.1 1426.2 311.1 1420 311 C1413.8 310.9 1405.4 311.2 1402 310.5 C1398.6 309.8 1400.2 312.1 1399.8 307 C1399.4 301.9 1399.8 292.8 1399.8 280 C1399.8 267.2 1399.7 245 1399.6 230 C1399.5 215 1399.4 197.6 1399.4 190 C1399.4 182.4 1399.4 185.7 1399.8 184.5 C1400.2 183.3 1398.6 183.1 1402 182.7Z" stroke-width="2.7" fill="none"/>
<ellipse cx="1420.3" cy="250.8" rx="3.5" ry="5.2" stroke-width="2.3" fill="none"/>
<ellipse cx="1409.4" cy="331.7" rx="10.6" ry="10.4" stroke-width="2.7" fill="none"/>
<circle cx="1409.4" cy="331.7" r="5.3" stroke-width="2.6" fill="none"/>
<ellipse cx="1435.1" cy="332.7" rx="8.8" ry="9.6" stroke-width="2.7" fill="none"/>
<circle cx="1435.1" cy="332.7" r="4.2" stroke-width="2.4" fill="none"/>
<path d="M1448 362.5 C1442 356 1433 349.5 1421 348.5 C1410 348.5 1402 355 1398.5 364 C1396 374 1397.5 384 1402 391.5 C1406 397.5 1413 401 1419.5 399 C1422 398 1423.5 394 1425 390 C1426 386 1429 384.5 1430.5 387 C1431.5 391 1429 398 1426 405 C1421 415 1413 425 1406 432 C1400 438 1394 442 1389.8 445" stroke-width="2.4" fill="none"/>
<ellipse cx="1405.5" cy="405.7" rx="6.6" ry="6.9" stroke-width="2.6" fill="none"/>
<path d="M1395.7 446 L1395 456 L1395.2 463.5 L1401.5 464" stroke-width="2.2" fill="none"/>
<path d="M1407.5 463.3 C1409 466.5 1412 468.5 1417 469.5 M1421 469.5 L1428 470.5 M1431 471.5 C1434 475 1438 475.5 1442.5 473.6 C1446 471 1448 467 1448.7 463.3" stroke-width="2.2" fill="none"/>
<path d="M1309.8 383 L1360.1 383" stroke-width="2.6" fill="none"/>
<text x="1481" y="730" font-size="33" text-anchor="start">d</text>
<path d="M293.5 1060 C288 1058.5 282.5 1057.5 282 1054 C281.2 1050 282 1047.5 285 1047.2 L360 1047.8 C364 1048.2 365 1050 364 1052.5 C362.5 1055 356 1056.5 350.2 1060" stroke-width="3.4" fill="none"/>
<path d="M293.5 1060 C294 1061 295.8 1063.8 296.5 1066 C297.2 1068.2 297.5 1069.3 298 1073.3 C298.5 1077.3 298.8 1083.9 299.3 1090 C299.9 1096.1 300.8 1104.2 301.3 1110 C301.8 1115.8 302.1 1120 302.2 1125 C302.3 1130 302.3 1136 302.2 1140 C302.1 1144 302 1142.5 301.8 1148.8 C301.6 1155.1 301.1 1168.1 300.9 1177.7 C300.7 1187.3 300.7 1197.7 300.4 1206.5 C300.1 1215.3 299.8 1223.4 298.9 1230.6 C298 1237.8 296.1 1242.6 295.1 1249.8 C294.1 1257 293.7 1264.6 292.7 1273.8 C291.7 1283 290 1294.8 289 1305 C288 1315.2 287.9 1323.1 286.7 1334.7 C285.4 1346.3 283.1 1363 281.5 1374.5 C279.9 1386 278.3 1393.8 277.1 1404 C275.9 1414.2 275.5 1428.7 274.5 1436 C273.5 1443.3 272 1444.7 271 1448 C270 1451.3 269.4 1451.8 268.5 1456 C267.6 1460.2 267.1 1466.8 265.9 1473.3 C264.7 1479.8 262.9 1487.8 261.5 1495 C260.1 1502.2 258.8 1507.8 257.2 1516.6 C255.6 1525.4 253.9 1538.8 252 1548 C250.1 1557.2 248 1564 246 1572 C244 1580 242 1588 240 1596 C238 1604 236 1612 234 1620 C232 1628 229.8 1636 228 1644 C226.2 1652 224.6 1660 223 1668 C221.4 1676 220.1 1684.7 218.4 1692 C216.7 1699.3 214.4 1706 213 1712 C211.6 1718 210.8 1723.3 210 1728 C209.2 1732.7 208.5 1736.4 208.3 1740 C208.1 1743.6 208.4 1746.9 208.8 1749.6 C209.2 1752.3 210 1754.4 211 1756 C212 1757.6 214.2 1758.5 214.8 1759" stroke-width="3.4" fill="none"/>
<path d="M350.2 1060 C349.5 1061 346.9 1064.3 346 1066 C345.1 1067.7 345.6 1066.5 344.7 1070 C343.8 1073.5 341.9 1080.6 340.7 1086.7 C339.5 1092.8 338.1 1101.2 337.3 1106.7 C336.6 1112.2 336.4 1114.6 336.2 1120 C336 1125.4 335.8 1132 336 1139.2 C336.2 1146.4 336.8 1153.7 337.4 1163.3 C337.9 1172.9 338.6 1189.1 339.3 1196.9 C340 1204.7 341 1203.6 341.7 1210 C342.4 1216.4 342.9 1226.4 343.7 1235.4 C344.5 1244.4 345.5 1255.4 346.5 1264.2 C347.5 1273 348.7 1280.7 349.9 1288.3 C351.1 1295.9 352.3 1302.3 353.5 1310 C354.7 1317.7 355.3 1324.8 356.9 1334.7 C358.5 1344.6 361 1357.8 362.9 1369.3 C364.8 1380.8 366.8 1394.2 368.1 1404 C369.4 1413.8 369.8 1422.2 370.7 1428 C371.6 1433.8 371.7 1432.5 373.3 1438.6 C374.9 1444.7 378 1454.4 380.2 1464.6 C382.4 1474.8 384.8 1489.4 386.5 1499.5 C388.2 1509.6 389 1515.2 390.6 1525.3 C392.2 1535.4 394.4 1551.9 395.9 1560 C397.4 1568.1 398 1568 399.6 1574 C401.2 1580 403.4 1588.3 405.6 1596 C407.8 1603.7 410.4 1612 412.8 1620 C415.2 1628 417.6 1636 420 1644 C422.4 1652 424.8 1660 427.2 1668 C429.6 1676 432 1684 434.4 1692 C436.8 1700 439.7 1709.8 441.6 1716 C443.5 1722.2 445 1726 446 1729 C447 1732 447.5 1732.4 447.6 1734 C447.7 1735.6 446.6 1738 446.4 1738.8" stroke-width="3.4" fill="none"/>
<path d="M214.8 1759 C225 1763 240 1767 252 1770 C265 1773 280 1775 300 1776.5 C318 1777.5 340 1776 360 1771.2 C380 1766 395 1762 408 1756.8 C420 1752 435 1746 446.4 1738.8" stroke-width="3.4" fill="none"/>
<path d="M303.5 1124.8 C313 1126.5 323 1127.5 335 1127.7" stroke-width="2.3" fill="none"/>
<path d="M289.2 1575.6 Q293.3 1575.2 296.4 1577.3" stroke-width="1.9" fill="none"/>
<path d="M277.2 1582.8 Q287.3 1582.8 296.4 1585.2" stroke-width="1.9" fill="none"/>
<path d="M276 1596 Q287.3 1594.5 297.6 1595.5" stroke-width="1.9" fill="none"/>
<path d="M273.6 1605.6 Q285.5 1604.4 296.4 1605.6" stroke-width="1.9" fill="none"/>
<path d="M278.4 1618.3 Q288.2 1616.5 297.1 1617.1" stroke-width="1.9" fill="none"/>
<path d="M279.6 1632 Q288.5 1630 296.4 1630.3" stroke-width="1.9" fill="none"/>
<path d="M284.4 1642 Q289.1 1641 292.8 1642.3" stroke-width="1.9" fill="none"/>
<path d="M288.5 1653.6 Q291.8 1651.9 294 1652.6" stroke-width="1.9" fill="none"/>
<path d="M355.2 1537.2 Q361.4 1538.8 366.7 1542.7" stroke-width="1.9" fill="none"/>
<path d="M352.3 1545.6 Q358.7 1547.1 364.1 1551.1" stroke-width="1.9" fill="none"/>
<path d="M348.7 1553.3 Q357.9 1556.9 366 1562.9" stroke-width="1.9" fill="none"/>
<path d="M347.5 1564.3 Q357.5 1566.7 366.5 1571.5" stroke-width="1.9" fill="none"/>
<path d="M412.8 1677.6 Q419.6 1679.7 425.3 1684.3" stroke-width="1.9" fill="none"/>
<path d="M406.8 1686 Q416.9 1689.2 426 1694.9" stroke-width="1.9" fill="none"/>
<path d="M399.6 1694.4 Q411.8 1699 422.9 1705.9" stroke-width="1.9" fill="none"/>
<path d="M397.9 1705.2 Q410 1710.6 421.2 1718.4" stroke-width="1.9" fill="none"/>
<path d="M385.2 1704 Q400.1 1714.2 414 1726.8" stroke-width="1.9" fill="none"/>
<path d="M355.2 1596 C355.8 1595.4 357.3 1593.3 358.5 1592.5 C359.7 1591.7 361.1 1591.7 362.4 1591.2 C363.6 1590.7 364.4 1589.8 366 1589.5 C367.6 1589.2 370 1588.9 372 1589.3 C374 1589.7 376 1591.1 378 1592 C380 1592.9 381.8 1593.6 384 1594.8 C386.2 1596 388.8 1597.6 391 1599 C393.2 1600.4 395.4 1601.5 397.2 1603.2 C399 1604.9 400.8 1606.6 402 1609 C403.2 1611.4 404.1 1615.1 404.4 1617.6 C404.6 1620.1 403.9 1622 403.5 1624 C403.1 1626 402.9 1627.6 402 1629.6 C401.1 1631.6 399.4 1633.6 398 1636 C396.6 1638.4 394 1641.7 393.6 1644 C393.2 1646.3 395.1 1648 395.5 1650 C395.9 1652 396.4 1653.5 396 1656 C395.6 1658.5 394.2 1662 393 1665 C391.8 1668 389.5 1672.5 388.8 1674" stroke-width="1.8" fill="none"/>
<path d="M335.5 1632.5 C335.8 1633.4 336.1 1636.1 337 1638 C337.9 1639.9 339.4 1642 340.8 1644 C342.2 1646 343.9 1647.6 345.5 1650 C347.1 1652.4 348.6 1655.4 350.4 1658.4 C352.1 1661.4 354 1664.8 356 1668 C358 1671.2 360.4 1675.1 362.4 1677.6 C364.4 1680.1 366 1681.5 368 1683 C370 1684.5 373.3 1686.1 374.4 1686.7" stroke-width="1.8" fill="none"/>
<path d="M438.7 1053.3 C440 1050.5 441.5 1050.2 443.3 1050 C450 1049.3 456 1049.2 463.3 1049.3 L490 1050.7 L510 1052.3 C513 1052.8 515 1053.2 515 1054.3 C515.2 1055.5 514.8 1056.5 514 1057.3 C511 1059 509 1060.5 506.7 1062.7 C504 1065 502.5 1067.5 501.3 1070 C499 1075 497.8 1081 496.7 1086.7 C495 1093 493.5 1100 492.7 1106.7 C491.7 1113 491 1120 490.7 1126.7 L490 1136 C489.5 1138 488.5 1138.8 487.3 1138.7 C486.3 1138.5 485.6 1137 485.3 1134.7 C484 1127 483 1120 482.7 1113.3 L482.7 1090.7 C483 1089.5 485.5 1087.5 487.3 1083.3 C488.2 1081.5 487.8 1078 484.7 1076 C482.5 1074.5 480.5 1074.4 478.7 1074.7 C476 1075 474 1076 472.7 1077.3 C470.8 1079 470.3 1081.5 470.7 1083.3 C471.3 1085.5 472.5 1087 474 1088 C475.5 1089 476.2 1090 476.3 1091 L476.7 1102 C476.5 1106 475.8 1110 474.7 1113.3 C473.5 1119 472.2 1125 471.3 1130 L470 1137.3 C469.5 1138 468.5 1137.5 468 1136 C467 1130 466 1125 465.3 1120 C464.2 1114 463 1108 462 1103.3 C460.5 1095 459.3 1087 458 1080 C457.2 1076 456.3 1072 455.3 1068.7 C454.2 1066 452.8 1063.8 451.3 1062 C449 1060 446 1058.8 443.3 1057.3 C441 1056 439.5 1055 438.7 1053.3 Z" stroke-width="3.4" fill="none"/>
<path d="M383.9 1088.1 L443.1 1088.1" stroke-width="2.4" fill="none"/>
<path d="M200 1541.3 L236 1541.3" stroke-width="2.4" fill="none"/>
<path d="M405 1541.3 L443 1541.3" stroke-width="2.4" fill="none"/>
<path d="M469 1537.5 C474.7 1536.8 488.2 1535.9 500 1535.5 C511.8 1535.1 526.9 1535.5 540 1535.3 C553.1 1535.1 568.6 1534.5 578.6 1534.5 C588.6 1534.5 595.5 1534.3 600 1535 C604.5 1535.7 604.4 1536.6 605.5 1538.5 C606.6 1540.4 606.8 1544 606.5 1546.5 C606.2 1549 606.2 1552 603.5 1553.5 C600.8 1555 600.6 1555 590 1555.5 C579.4 1556 554.7 1556 540 1556.5 C525.3 1557 511.7 1558.3 502 1558.2 C492.3 1558.1 487 1557.2 482 1556 C477 1554.8 474.6 1552.8 472 1551 C469.4 1549.2 467.5 1546.8 466.5 1545 C465.5 1543.2 465.6 1541.2 466 1540 C466.4 1538.8 463.3 1538.2 469 1537.5Z" stroke-width="1.4" fill="#000"/>
<text x="486" y="1763" font-size="33" text-anchor="start">e</text>
<path d="M773.4 1137.5 L774 1121.6 L774.4 1106 C774.6 1101.5 776 1099.4 777.8 1099.4 C780 1099.4 781.8 1100.6 782.8 1102.7 C784.5 1108 786 1114 786.6 1118.5 C787.5 1123 788 1127 787.9 1130 C787.8 1133 787 1135.5 784.7 1136.8 L775.9 1137.5" stroke-width="3.5" fill="none"/>
<path d="M773.4 1137.5 C773.1 1138 772 1139.5 771.5 1140.5 C771 1141.5 770.6 1141.7 770.2 1143.8 C769.8 1145.9 769.1 1150.3 768.9 1153.3 C768.7 1156.3 768.9 1159.4 769 1162 C769.1 1164.6 769.3 1167.2 769.6 1169.1 C769.9 1171 770.6 1172.8 770.8 1173.5" stroke-width="3.5" fill="none"/>
<path d="M770.8 1174.5 C770.4 1175 768.9 1176.2 768.2 1177.5 C767.5 1178.8 766.9 1180.6 766.6 1182 C766.3 1183.4 766.3 1184.5 766.4 1186 C766.5 1187.5 766.8 1189.6 767 1191 C767.2 1192.4 767.4 1193.1 767.7 1194.4 C768 1195.7 768.6 1197.7 769 1199 C769.4 1200.3 770 1201.5 770.2 1202" stroke-width="3.5" fill="none"/>
<path d="M785.5 1136.8 C785.8 1137.3 786.9 1138.8 787.5 1140 C788.1 1141.2 788.7 1141.6 789.2 1143.8 C789.7 1146 789.7 1150.7 790.4 1153.3 C791.1 1155.9 792.9 1157.5 793.6 1159.6 C794.3 1161.7 794.3 1163.9 794.4 1166 C794.5 1168.1 794.3 1170.1 794.2 1172.3 C794.1 1174.5 794 1176.9 793.8 1179 C793.6 1181.1 793.6 1182.3 793 1184.9 C792.4 1187.5 791.2 1192.1 790.4 1194.4 C789.5 1196.7 788.5 1198 787.9 1198.9 C787.3 1199.9 786.8 1199.9 786.6 1200.1" stroke-width="3.5" fill="none"/>
<path d="M770.2 1202 L774 1202 M777.4 1202.6 C781 1202.3 784 1201.5 786.6 1200.1" stroke-width="3.1" fill="none"/>
<path d="M775.3 1147 C779 1145.5 783 1144.5 786.6 1144.6" stroke-width="2.6" fill="none"/>
<path d="M770.8 1174 C771.7 1173 774.4 1173.9 776 1174 C777.6 1174.1 779 1174 780.5 1174.6 C782 1175.1 785 1176.7 784.7 1177.3 C784.5 1177.9 781.3 1178 779 1178.4 C776.7 1178.8 772.2 1180.6 770.8 1179.9 C769.4 1179.2 769.9 1175 770.8 1174Z" stroke-width="1.4" fill="#000"/>
<ellipse cx="773.3" cy="1177" rx="1.3" ry="0.9" fill="#fff" stroke="none"/>
<path d="M770.2 1202 C770 1206.7 769.5 1221.5 769.2 1230 C768.9 1238.5 768.4 1245.5 768.3 1253 C768.2 1260.5 768.4 1268.6 768.5 1275 C768.6 1281.4 769.2 1284 769.2 1291.5 C769.2 1299 768.6 1310.4 768.5 1320 C768.4 1329.6 768.1 1340.9 768.3 1349.2 C768.5 1357.5 769.2 1363.6 769.5 1370 C769.8 1376.4 770.2 1379.4 770.2 1387.7 C770.2 1396 769.8 1411.3 769.8 1420 C769.8 1428.7 770.3 1433.3 770.1 1440 C769.9 1446.7 769.1 1453.9 768.8 1460 C768.5 1466.1 768.6 1469.7 768.3 1476.4 C768 1483.1 767.5 1490.9 767 1500 C766.5 1509.1 765.9 1519.3 765.6 1531 C765.3 1542.7 765.1 1557.8 765 1570 C764.9 1582.2 764.8 1594 764.7 1604 C764.6 1614 764.5 1620.9 764.5 1630 C764.5 1639.1 764.4 1650.6 764.7 1658.6 C765 1666.6 765.8 1671.9 766.5 1678 C767.2 1684.1 768.5 1689.3 769.2 1695 C769.9 1700.7 770.3 1705.9 770.8 1712 C771.2 1718.1 771.6 1725.9 771.9 1731.4 C772.2 1736.9 772.5 1741.1 772.8 1745 C773.1 1748.9 773.3 1752.7 773.8 1755 C774.2 1757.3 774.9 1758.2 775.5 1758.8 C776.1 1759.4 777.1 1758.8 777.4 1758.8" stroke-width="3.5" fill="none"/>
<path d="M787.9 1199 C788.1 1200.8 788.8 1204.8 789.2 1210 C789.6 1215.2 790.1 1222.8 790.5 1230 C790.9 1237.2 791.2 1244.7 791.3 1253 C791.3 1261.3 790.9 1270.4 790.8 1280 C790.6 1289.6 790.3 1300.8 790.4 1310.8 C790.5 1320.8 791 1330.4 791.5 1340 C792 1349.6 792.9 1358.5 793.3 1368.5 C793.7 1378.5 793.7 1388.1 793.8 1400 C793.9 1411.9 793.8 1428.3 793.8 1440 C793.8 1451.7 793.8 1460.9 793.8 1470 C793.8 1479.1 794 1487.1 793.8 1494.6 C793.6 1502.1 793 1508.9 792.5 1515 C792 1521.1 791.3 1525.2 791.1 1531 C790.9 1536.8 791.4 1543.9 791.5 1550 C791.6 1556.1 792.2 1560 792 1567.5 C791.8 1575 791 1585.9 790.5 1595 C790 1604.1 789.4 1612.8 789.3 1622 C789.2 1631.2 789.6 1640.9 789.7 1650 C789.9 1659.1 790.6 1669.2 790.2 1676.7 C789.8 1684.2 788.6 1688.9 787.5 1695 C786.4 1701.1 784.8 1706.5 783.8 1713.2 C782.8 1719.9 782 1728.9 781.5 1735 C781 1741.1 780.9 1746.2 780.6 1750 C780.3 1753.8 780 1756 779.5 1757.5 C779 1759 777.8 1758.6 777.4 1758.8" stroke-width="3.5" fill="none"/>
<path d="M781.6 1227.5 L786.2 1226.3" stroke-width="1.5" fill="none"/>
<path d="M775.5 1241 L786 1227" stroke-width="1.5" fill="none"/>
<path d="M779 1249 L784 1240" stroke-width="1.5" fill="none"/>
<path d="M782.5 1275 C782.7 1276 783.1 1279 783.5 1281 C783.9 1283 784.8 1286 785 1287" stroke-width="1.5" fill="none"/>
<path d="M783.5 1360 C783.5 1361.7 783.7 1367 783.5 1370 C783.3 1373 782.7 1376.7 782.5 1378" stroke-width="1.5" fill="none"/>
<path d="M787.5 1381 C787.2 1383.3 786.8 1391.5 786 1395 C785.2 1398.5 783.5 1399 783 1402 C782.5 1405 783 1411.2 783 1413" stroke-width="1.5" fill="none"/>
<path d="M781 1418 L781.5 1426" stroke-width="1.5" fill="none"/>
<path d="M783.9 1513 C784 1515.8 784.1 1525.5 784.5 1530 C784.9 1534.5 786.4 1536.2 786.5 1540 C786.6 1543.8 785.6 1549.7 785 1553 C784.4 1556.3 783.2 1558.8 782.8 1560" stroke-width="1.5" fill="none"/>
<path d="M786.9 1579 C786.9 1580.8 787.3 1586.5 787 1590 C786.7 1593.5 786 1596 785 1600 C784 1604 782 1610.3 781.2 1614 C780.4 1617.7 780.2 1620.7 780 1622" stroke-width="1.5" fill="none"/>
<path d="M787 1617 C787 1619.2 787.1 1626 787 1630 C786.9 1634 786.3 1639.2 786.2 1641" stroke-width="1.5" fill="none"/>
<path d="M778.5 1670 L786 1660" stroke-width="1.5" fill="none"/>
<path d="M780.5 1677 L786.3 1671.5" stroke-width="1.5" fill="none"/>
<path d="M778 1687 L777.3 1700" stroke-width="1.5" fill="none"/>
<text x="845.3" y="1761" font-size="33" text-anchor="start">f</text>
<path d="M1099 981.5 L1150 980.5 L1200 981.5 L1236 981.8 L1239.5 985.5 L1241 997 L1238.5 1000.5 L1200 999 L1150 997.5 L1092 996.5 L1089.5 994.5Z" stroke-width="1.4" fill="#000"/>
<path d="M1160.5 1004.7 L1162 1025" stroke-width="2.4" fill="none"/>
<path d="M1135.3 1098.7 C1131 1096 1127 1095 1126 1092 C1123.5 1087 1121.5 1080 1121.5 1071 C1122 1063 1126 1056 1133 1048 C1140 1041 1150 1036.5 1161.3 1035 C1172 1034.5 1185 1037 1196 1043.2 C1203 1049 1208 1058 1212 1067 C1214.5 1074 1213.5 1081 1208 1085.5 C1203 1089 1200 1091.5 1199.5 1095.5 C1199.5 1098 1201 1099.5 1203.5 1099.5" stroke-width="3.4" fill="none"/>
<path d="M1131 1086.5 C1128 1080 1126.5 1072 1129 1065 C1132.5 1056 1140 1047 1152.7 1043.2" stroke-width="1.9" fill="none"/>
<ellipse cx="1167" cy="1066" rx="11.2" ry="8.3" stroke-width="3.1" fill="none" transform="rotate(-15 1167 1066)"/>
<path d="M1135.3 1098.7 C1125 1097.5 1110 1097.5 1096 1098 C1092 1098.5 1091 1101 1091.1 1104" stroke-width="3.5" fill="none"/>
<path d="M1203.5 1099.5 C1215 1098 1230 1097 1240 1097.5 C1244 1098.5 1245.5 1100 1245.6 1103" stroke-width="3.5" fill="none"/>
<path d="M1091.1 1104 C1090.8 1108.9 1089.6 1124 1089.4 1133.3 C1089.2 1142.6 1089.7 1151.3 1089.8 1160 C1089.9 1168.7 1090 1177.8 1090.3 1185.3 C1090.6 1192.8 1091.2 1199.2 1091.5 1205 C1091.8 1210.8 1092 1210.8 1092 1220 C1092 1229.2 1091.7 1246.7 1091.6 1260 C1091.5 1273.3 1091 1291.5 1091.2 1300 C1091.4 1308.5 1092.9 1305.7 1092.8 1311 C1092.7 1316.3 1090.8 1320.5 1090.4 1332 C1090.1 1343.5 1090.6 1364 1090.7 1380 C1090.8 1396 1091 1412.2 1091.2 1428 C1091.4 1443.8 1091.7 1459.7 1092 1475 C1092.3 1490.3 1092.9 1510 1092.8 1520 C1092.7 1530 1091.9 1531.1 1091.5 1535 C1091.1 1538.9 1090.2 1539.1 1090.3 1543.3 C1090.4 1547.5 1091.1 1554.8 1092 1560 C1092.9 1565.2 1095.2 1567.8 1095.5 1574.5 C1095.8 1581.2 1094.6 1592.2 1094 1600 C1093.4 1607.8 1092.8 1614.6 1092 1621.3 C1091.2 1628 1089.7 1634.2 1089 1640 C1088.3 1645.8 1087.6 1649.3 1087.7 1656 C1087.8 1662.7 1088.6 1671.3 1089.5 1680 C1090.4 1688.7 1092.3 1699.7 1092.9 1708 C1093.5 1716.3 1093.1 1722.8 1093.2 1730 C1093.3 1737.2 1093.4 1744.6 1093.8 1751.3 C1094.2 1758 1094.9 1764.2 1095.5 1770 C1096.1 1775.8 1096.5 1781 1097.3 1786 C1098.1 1791 1099.3 1795.4 1100.5 1800 C1101.7 1804.6 1103.6 1811.2 1104.2 1813.5" stroke-width="3.5" fill="none"/>
<path d="M1104.2 1813.5 C1115 1812.5 1130 1811 1146.7 1811 C1160 1811.5 1170 1813 1181.3 1813.5 C1195 1814.5 1210 1815 1223 1814.4 C1226 1811 1228 1809 1229.9 1808.3 C1234 1806.5 1238 1805 1240.3 1802.3 C1245 1795 1248 1786 1250.7 1778 C1254 1768 1257 1760 1258.5 1752" stroke-width="3.5" fill="none"/>
<path d="M1245.6 1103 C1245.8 1105.8 1246.6 1115 1247 1120 C1247.4 1125 1247.8 1126.6 1248 1133.3 C1248.2 1140 1248.3 1151.3 1248.5 1160 C1248.7 1168.7 1248.8 1177 1248.9 1185.3 C1249 1193.6 1249 1204.2 1249 1210 C1249 1215.8 1249 1213.3 1248.8 1220 C1248.6 1226.7 1248.1 1242 1248 1250 C1247.9 1258 1247.1 1259.7 1248 1268 C1248.9 1276.3 1252.5 1285.3 1253.6 1300 C1254.7 1314.7 1254.7 1337.3 1254.4 1356 C1254.1 1374.7 1251.7 1393.3 1252 1412 C1252.3 1430.7 1255.2 1450 1256 1468 C1256.8 1486 1256.7 1508.9 1256.8 1520 C1256.9 1531.1 1256.4 1526.5 1256.7 1534.7 C1257 1542.9 1258.3 1554.9 1258.5 1569.3 C1258.7 1583.7 1257.5 1609.5 1257.6 1621.3 C1257.7 1633.1 1258.4 1632.8 1259 1640 C1259.6 1647.2 1261.2 1658 1261.1 1664.7 C1261 1671.4 1259.1 1675.7 1258.5 1680 C1257.9 1684.3 1257.9 1686.6 1257.6 1690.7 C1257.3 1694.8 1256.1 1700.8 1256.7 1704.5 C1257.3 1708.2 1260.4 1709 1261.1 1713.2 C1261.8 1717.5 1261.1 1723.7 1260.8 1730 C1260.5 1736.3 1259.7 1747.6 1259.3 1751.3 C1258.9 1755 1258.6 1751.9 1258.5 1752" stroke-width="3.5" fill="none"/>
<path d="M1103.3 1100.4 C1103.5 1108.7 1104.2 1135.8 1104.5 1150 C1104.8 1164.2 1104.6 1175.3 1105 1185.3 C1105.4 1195.3 1106.5 1204.2 1107 1210 C1107.5 1215.8 1107.5 1211.7 1108 1220 C1108.5 1228.3 1109.8 1249.3 1110.2 1260 C1110.6 1270.7 1110.5 1273.1 1110.4 1284 C1110.3 1294.9 1109.7 1318.7 1109.6 1325.6" stroke-width="1.8" fill="none"/>
<path d="M1108.8 1336.8 C1108.6 1339.8 1107.8 1349.9 1107.5 1355 C1107.2 1360.1 1107.2 1365.2 1107.2 1367.2" stroke-width="1.8" fill="none"/>
<path d="M1108 1378.4 C1108 1381.3 1108.3 1391.5 1108 1396 C1107.7 1400.5 1106.7 1398.8 1106.4 1405.6 C1106.1 1412.4 1106.4 1431.6 1106.4 1436.8" stroke-width="1.8" fill="none"/>
<path d="M1106.4 1478.4 L1105.6 1504.8" stroke-width="1.8" fill="none"/>
<path d="M1105 1505 L1105.9 1560.7" stroke-width="1.8" fill="none"/>
<path d="M1105.9 1579.7 C1105.9 1595.3 1105.9 1643.2 1105.9 1673.3 C1105.9 1703.3 1106.1 1740.5 1105.9 1760 C1105.7 1779.5 1104.9 1782 1104.5 1790 C1104.1 1798 1103.5 1805 1103.3 1808" stroke-width="1.8" fill="none"/>
<path d="M1232.4 1100.4 C1232.8 1112 1234.3 1150.1 1235 1170 C1235.7 1189.9 1236.5 1199.7 1236.8 1220 C1237.1 1240.3 1236.1 1269.1 1236.8 1292 C1237.5 1314.9 1240.1 1334.9 1240.8 1357.6 C1241.5 1380.3 1240.4 1400.9 1240.8 1428 C1241.2 1455.1 1242.3 1490.7 1243.2 1520 C1244.1 1549.3 1246.3 1578.5 1246.3 1604 C1246.2 1629.5 1243.5 1661.8 1242.9 1673.3" stroke-width="1.8" fill="none"/>
<path d="M1051 1158 L1074.7 1158" stroke-width="2.4" fill="none"/>
<path d="M1257.5 1156.4 L1276.6 1156.4" stroke-width="2.4" fill="none"/>
<text x="1287.8" y="1766" font-size="33" text-anchor="start">g</text>
<rect x="615.8" y="1914.3" width="297.2" height="10.8" fill="#000"/>
<rect x="676" y="1915" width="59" height="9.4" fill="#fff" stroke="#777" stroke-width="0.8"/>
<rect x="794.3" y="1915" width="59" height="9.4" fill="#fff" stroke="#777" stroke-width="0.8"/>
<text x="608.2" y="1904.4" font-size="32.6" text-anchor="start">0</text>
<text x="895.8" y="1904.4" font-size="32.6" text-anchor="start">50</text>
<text x="942" y="1904.4" font-size="32.6" textLength="55.6" lengthAdjust="spacingAndGlyphs">mm</text>
<path d="M749.3 1974.8 L749.3 1956.6 C747.5 1958.1 745.3 1959.3 743.1 1960.1 L743.1 1957.3 C746.3 1955.7 749.3 1953.4 750.9 1951 L752.4 1951 L752.4 1974.8 Z" fill="#000" stroke="none"/>
<text x="758.1" y="1974.8" font-size="33" text-anchor="start">:2</text>
</g>
</svg>
</body></html>
